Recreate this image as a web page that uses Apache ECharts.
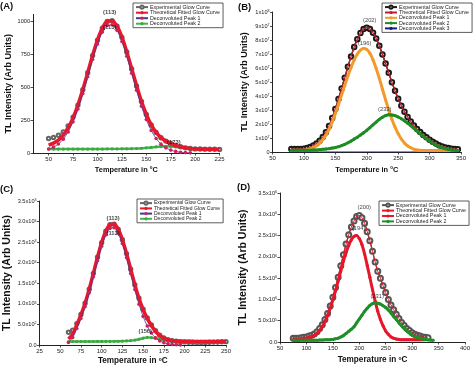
<!DOCTYPE html>
<html><head><meta charset="utf-8">
<script src="https://cdn.jsdelivr.net/npm/echarts@6/dist/echarts.min.js"></script>
<style>html,body{margin:0;padding:0;background:#fff}#c{width:474px;height:372px}</style>
</head><body><div id="c"></div>
<script>
// ---------- DATA ----------
// Panel A
const tA = [50,55,60,65,70,75,80,85,90,95,100,105,110,115,120,125,130,135,140,145,150,155,160,165,170,175,180,185,190,195,200,205,210,215,220,225];
const expA = [110,118,135,160,205,272,363,480,608,738,855,946,996,1002,960,876,765,637,508,391,292,213,156,116,90,72,58,47,39,34,31,30,29,28,28,27];
const fitA = [60,75,98,135,190,266,363,480,608,738,855,946,997,1002,960,877,765,638,509,391,292,213,156,116,90,72,58,47,39,34,31,30,29,28,28,27];
const peak1A = [30,45,68,105,160,236,333,450,578,708,825,916,966,971,929,845,733,605,475,355,253,171,110,67,39,22,12,6,3,1];
const peak2A = [30,30,30,30,30,30,30,30,30,30,30,30,31,31,31,32,32,33,34,36,39,42,46,49,51,50,46,41,36,33,31,30,29,28,28,27];
const xTicksA = [50,75,100,125,150,175,200,225];
const yTicksA = [0,250,500,750,1000];
const annTA = [113,113,170], annVA = [1002,1002,90], annTextA = ['(113)','(113)','(173)'];

// Panel B (values in units of 1e7)
const unitB = 1e7;
const tB = [80,85,90,95,100,105,110,115,120,125,130,135,140,145,150,155,160,165,170,175,180,185,190,195,200,205,210,215,220,225,230,235,240,245,250,255,260,265,270,275,280,285,290,295,300,305,310,315,320,325,330,335,340,345];
const expB = [0.22,0.22,0.22,0.22,0.24,0.29,0.35,0.46,0.6,0.8,1.07,1.41,1.86,2.43,3.07,3.78,4.54,5.31,6.09,6.82,7.5,8.06,8.5,8.78,8.88,8.79,8.52,8.11,7.59,6.97,6.32,5.66,4.99,4.38,3.81,3.31,2.88,2.5,2.18,1.89,1.65,1.42,1.22,1.05,0.88,0.73,0.6,0.49,0.4,0.33,0.28,0.24,0.22,0.2];
const fitB = [0.22,0.22,0.22,0.22,0.24,0.29,0.35,0.46,0.6,0.8,1.07,1.41,1.86,2.43,3.07,3.78,4.54,5.31,6.09,6.82,7.5,8.06,8.5,8.78,8.88,8.79,8.52,8.11,7.59,6.97,6.32,5.66,4.99,4.38,3.81,3.31,2.88,2.5,2.18,1.89,1.65,1.42,1.22,1.05,0.88,0.73,0.6,0.49,0.4,0.33,0.28,0.24,0.22,0.2];
const peak1B = [0.1,0.1,0.1,0.1,0.12,0.16,0.22,0.32,0.45,0.63,0.88,1.2,1.62,2.15,2.75,3.4,4.08,4.76,5.43,6.04,6.58,7.0,7.28,7.4,7.33,7.05,6.58,5.97,5.26,4.49,3.72,3.0,2.34,1.78,1.31,0.93,0.65,0.44,0.3,0.2,0.15,0.12,0.1,0.1,0.1,0.1,0.1,0.1,0.1,0.1,0.1,0.1,0.1,0.1];
const peak2B = [0.12,0.12,0.12,0.12,0.12,0.13,0.13,0.14,0.15,0.17,0.19,0.21,0.24,0.28,0.32,0.38,0.46,0.55,0.66,0.78,0.92,1.06,1.22,1.38,1.55,1.74,1.94,2.14,2.33,2.48,2.6,2.66,2.65,2.6,2.5,2.38,2.23,2.06,1.88,1.69,1.5,1.3,1.12,0.95,0.78,0.63,0.5,0.39,0.3,0.23,0.18,0.14,0.12,0.1];
const peak3B = [0,0,0,0,0,0,0,0,0,0,0,0,0,0,0,0,0,0,0,0,0,0,0,0,0,0,0,0,0,0,0,0,0,0,0,0,0,0,0,0,0,0,0,0,0,0,0,0,0,0,0,0,0,0];
const xTicksB = [50,100,150,200,250,300,350];
const yTicksB = [0,1,2,3,4,5,6,7,8,9,10];
const annTB = [200,195,235], annVB = [8.88,7.4,2.66], annTextB = ['(202)','(196)','(233)'];

// Panel C
const tC = [60,65,70,75,80,85,90,95,100,105,110,115,120,125,130,135,140,145,150,155,160,165,170,175,180,185,190,195,200,205,210,215,220,225,230,235,240,245,250];
const expC = [310,360,520,740,1014,1357,1741,2132,2488,2764,2922,2938,2810,2559,2221,1842,1467,1140,870,660,490,345,240,170,128,105,92,82,75,68,64,62,62,63,66,70,74,78,82];
const fitC = [145,265,485,729,1014,1357,1741,2132,2488,2764,2922,2938,2810,2559,2221,1842,1467,1133,860,647,472,335,234,169,130,108,97,92,88,87,87,86,86,86,86,86,86,86,86];
const peak1C = [60,180,400,644,929,1272,1656,2046,2402,2677,2834,2849,2719,2465,2122,1735,1347,993,695,462,292,175,99,54,28,13,6,3];
const peak2C = [85,85,85,85,85,85,85,86,86,87,88,89,91,94,99,107,120,140,165,185,180,160,135,115,102,95,91,89,88,87,87,86,86,86,86,86,86,86,86];
const xTicksC = [25,50,75,100,125,150,175,200,225,250];
const yTicksC = [0,500,1000,1500,2000,2500,3000,3500];
const annTC = [115,115,155], annVC = [2938,2938,185], annTextC = ['(113)','(113)','(156)'];

// Panel D (values in units of 1e6)
const unitD = 1e6;
const tD = [75,80,85,90,95,100,105,110,115,120,125,130,135,140,145,150,155,160,165,170,175,180,185,190,195,200,205,210,215,220,225,230,235,240,245,250,255,260,265,270,275,280,285,290,295,300,305,310,315,320,325,330,335,340];
const expD = [0.09,0.09,0.09,0.1,0.11,0.12,0.14,0.16,0.19,0.24,0.315,0.405,0.53,0.67,0.845,1.05,1.28,1.52,1.79,2.05,2.3,2.52,2.7,2.84,2.95,2.97,2.92,2.79,2.59,2.38,2.13,1.88,1.66,1.5,1.32,1.16,1.0,0.87,0.76,0.65,0.55,0.46,0.39,0.32,0.27,0.22,0.18,0.16,0.14,0.12,0.11,0.1];
const fitD = [0.09,0.09,0.09,0.1,0.11,0.12,0.14,0.16,0.19,0.24,0.315,0.405,0.53,0.67,0.845,1.05,1.28,1.52,1.79,2.05,2.3,2.52,2.7,2.84,2.95,2.97,2.92,2.79,2.59,2.38,2.13,1.88,1.66,1.5,1.32,1.16,1.0,0.87,0.76,0.65,0.55,0.46,0.39,0.32,0.27,0.22,0.18,0.16,0.14,0.12,0.11,0.1];
const peak1D = [0.05,0.05,0.05,0.06,0.07,0.08,0.1,0.12,0.15,0.2,0.27,0.36,0.48,0.62,0.79,0.99,1.2,1.43,1.67,1.9,2.1,2.27,2.4,2.48,2.5,2.43,2.29,2.07,1.8,1.52,1.23,0.96,0.72,0.53,0.38,0.26,0.18,0.12,0.09,0.07,0.06,0.05,0.05,0.05,0.05,0.05,0.05,0.05,0.05,0.05,0.05];
const peak2D = [0.04,0.04,0.04,0.04,0.04,0.04,0.04,0.04,0.04,0.04,0.045,0.045,0.05,0.05,0.055,0.06,0.075,0.09,0.12,0.15,0.2,0.25,0.3,0.36,0.45,0.54,0.63,0.72,0.79,0.86,0.9,0.92,0.91,0.89,0.85,0.81,0.75,0.68,0.6,0.53,0.45,0.38,0.32,0.26,0.21,0.16,0.13,0.11,0.09,0.07,0.06,0.05,0.045,0.04];
const xTicksD = [50,100,150,200,250,300,350,400];
const yTicksD = [0,0.5,1.0,1.5,2.0,2.5,3.0,3.5];
const annTD = [200,195,230], annVD = [2.97,2.5,0.92], annTextD = ['(200)','(194)','(231)'];

const names = ['Experimental Glow Curve','Theoretical Fitted Glow Curve','Deconvoluted Peak 1','Deconvoluted Peak 2','Deconvoluted Peak 3'];

// ---------- BUILD ----------
const FONT = 'Liberation Sans, Arial, Helvetica, sans-serif';
function pairs(t, v, unit) { unit = unit || 1; const n = Math.min(t.length, v.length); const out = []; for (let i = 0; i < n; i++) out.push([t[i], v[i] * unit]); return out; }

const grids = [
  {left: 33, top: 14.4, width: 186.6, height: 138.6},
  {left: 272.5, top: 12, width: 188.5, height: 140},
  {left: 39.5, top: 201, width: 186.5, height: 144},
  {left: 280, top: 193, width: 185, height: 149}
];

const supRich = {s: {fontSize: 3.6, verticalAlign: 'top', fontFamily: FONT, color: '#222'}};
function xAxis(i, min, max, ticks, nameSize, gap) {
  return {
    type: 'value', gridIndex: i, min: min, max: max,
    name: 'Temperature in {s|o}C', nameLocation: 'middle', nameGap: gap,
    nameTextStyle: {fontSize: nameSize, fontWeight: 'bold', fontFamily: FONT, color: '#111',
      rich: {s: {fontSize: nameSize * 0.6, fontWeight: 'bold', verticalAlign: 'top', fontFamily: FONT, color: '#111'}}},
    axisLine: {lineStyle: {color: '#222', width: 1}},
    axisTick: {show: true, inside: false, length: 2.5, customValues: ticks, lineStyle: {color: '#222', width: 0.8}},
    axisLabel: {fontSize: 6, margin: 3, color: '#222', fontFamily: FONT, customValues: ticks},
    splitLine: {show: false}
  };
}
function yAxis(i, min, max, ticks, fmt, nameSize, gap) {
  return {
    type: 'value', gridIndex: i, min: min, max: max,
    name: 'TL Intensity (Arb Units)', nameLocation: 'middle', nameGap: gap,
    nameTextStyle: {fontSize: nameSize, fontWeight: 'bold', fontFamily: FONT, color: '#111'},
    axisLine: {show: true, lineStyle: {color: '#222', width: 1}},
    axisTick: {show: true, inside: false, length: 2.5, customValues: ticks, lineStyle: {color: '#222', width: 0.8}},
    axisLabel: {fontSize: 5.6, margin: 3, color: '#222', fontFamily: FONT, customValues: ticks, formatter: fmt, rich: supRich},
    splitLine: {show: false}
  };
}
const fmtA = v => String(v);
const fmtB = v => v === 0 ? '0' : (v >= 10 ? '1x10{s|8}' : v + 'x10{s|7}');
const fmtC = v => v === 0 ? '0.0' : (v < 1000 ? (v / 100).toFixed(1) + 'x10{s|2}' : (v / 1000).toFixed(1) + 'x10{s|3}');
const fmtD = v => v === 0 ? '0.0' : (v < 1 ? (v * 10).toFixed(1) + 'x10{s|5}' : v.toFixed(1) + 'x10{s|6}');

function legend(i, left, top, count, tag, fontSize, gap) {
  return {
    orient: 'vertical', left: left, top: top,
    data: names.slice(0, count).map(n => n + '#' + tag),
    formatter: n => n.split('#')[0],
    itemWidth: 12, itemHeight: 4, itemGap: gap,
    padding: [1.5, 3, 1.5, 2], borderColor: '#333', borderWidth: 0.8, backgroundColor: '#fff',
    textStyle: {fontSize: fontSize, color: '#222', fontFamily: FONT, padding: [0, 0, 0, -3]},
    selectedMode: false, z: 20
  };
}

function line(tag, idx, name, t, v, unit, z, o) {
  return Object.assign({
    type: 'line', name: name + '#' + tag, xAxisIndex: idx, yAxisIndex: idx, z: z,
    data: pairs(t, v, unit), smooth: 0.3, animation: false, silent: true, showAllSymbol: true
  }, o);
}
function ann(idx, t, v, unit, texts, offsets, bold) {
  return {
    type: 'scatter', xAxisIndex: idx, yAxisIndex: idx, symbolSize: 0, z: 15, silent: true, animation: false,
    data: t.map((x, i) => ({value: [x, v[i] * (unit || 1)], label: {offset: offsets[i]}})),
    label: {show: true, position: 'inside', fontSize: 5.8, fontWeight: bold ? 'bold' : 'normal', color: '#111', fontFamily: FONT,
      formatter: p => texts[p.dataIndex]}
  };
}

const expStyle = (c, lw, sz, bw) => ({
  lineStyle: {color: c, width: lw}, itemStyle: {color: c, borderColor: c, borderWidth: bw},
  symbol: 'emptyCircle', symbolSize: sz, showSymbol: true
});
const solid = (lc, ic, lw, sz, sym) => ({
  lineStyle: {color: lc, width: lw}, itemStyle: {color: ic}, symbol: sym || 'circle', symbolSize: sz, showSymbol: sz > 0
});

const series = [
  // A
  line('A', 0, names[3], tA, peak2A, 1, 2, solid('#45b54b', '#3aa840', 2.4, 3.2)),
  line('A', 0, names[0], tA, expA, 1, 3, expStyle('#666', 1, 3.4, 0.9)),
  line('A', 0, names[1], tA, fitA, 1, 4, solid('#e8182c', '#e8182c', 3.6, 0, 'none')),
  line('A', 0, names[2], tA, peak1A, 1, 5, solid('#3c3c96', '#d0205a', 0.8, 3.6)),
  ann(0, annTA, annVA, 1, annTextA, [[-0.5, -8.5], [-0.5, 6.5], [8, 1]], true),
  // B
  line('B', 1, names[4], tB, peak3B, unitB, 1, solid('#1a1a80', '#1a1a80', 1, 0, 'none')),
  line('B', 1, names[0], tB, expB, unitB, 2, expStyle('#1a1a1a', 1.5, 4.5, 1.1)),
  line('B', 1, names[1], tB, fitB, unitB, 3, solid('#c81c2a', '#c81c2a', 1.2, 0, 'none')),
  line('B', 1, names[2], tB, peak1B, unitB, 5, solid('#f39a2c', '#f39a2c', 3, 3)),
  line('B', 1, names[3], tB, peak2B, unitB, 6, solid('#1e8c23', '#1e8c23', 3, 3)),
  ann(1, annTB, annVB, unitB, annTextB, [[3, -7], [1, -5.5], [-4, -5.5]], false),
  // C
  line('C', 2, names[3], tC, peak2C, 1, 2, solid('#45b54b', '#3aa840', 2.4, 3.2)),
  line('C', 2, names[0], tC, expC, 1, 3, expStyle('#666', 1, 3.4, 0.9)),
  line('C', 2, names[1], tC, fitC, 1, 4, solid('#e8182c', '#e8182c', 3.6, 0, 'none')),
  line('C', 2, names[2], tC, peak1C, 1, 5, solid('#3c3c96', '#d0205a', 0.8, 3.6)),
  ann(2, annTC, annVC, 1, annTextC, [[-1, -6], [-1, 9], [-2, -6]], true),
  // D
  line('D', 3, names[0], tD, expD, unitD, 2, expStyle('#555', 1.4, 5, 1)),
  line('D', 3, names[1], tD, fitD, unitD, 3, solid('#e8182c', '#e8182c', 1, 0, 'none')),
  line('D', 3, names[2], tD, peak1D, unitD, 4, solid('#e8162a', '#e8162a', 3, 3)),
  line('D', 3, names[3], tD, peak2D, unitD, 5, solid('#1f8f28', '#1f8f28', 3, 3)),
  ann(3, annTD, annVD, unitD, annTextD, [[5, -8], [2, -7], [2, -6]], false)
];

const option = {
  animation: false,
  backgroundColor: '#fff',
  grid: grids,
  xAxis: [
    xAxis(0, 34, 225, xTicksA, 7.4, 13),
    xAxis(1, 50, 350, xTicksB, 7.4, 14),
    xAxis(2, 25, 250, xTicksC, 8.2, 12),
    xAxis(3, 50, 400, xTicksD, 8.2, 14)
  ],
  yAxis: [
    yAxis(0, 0, 1050, yTicksA, fmtA, 9, 20),
    yAxis(1, 0, 1e8, yTicksB.map(v => v * unitB), v => fmtB(v / unitB), 9, 23),
    yAxis(2, 0, 3500, yTicksC, fmtC, 10.5, 27),
    yAxis(3, 0, 3.5e6, yTicksD.map(v => v * unitD), v => fmtD(v / unitD), 10.5, 31)
  ],
  legend: [
    legend(0, 133, 3, 4, 'A', 5.3, 0.5),
    legend(1, 382, 3, 5, 'B', 5.3, 0.3),
    legend(2, 137, 199, 4, 'C', 5.0, 0.2),
    legend(3, 379, 201, 4, 'D', 5.3, 0.4)
  ],
  graphic: [
    {type: 'text', left: 0, top: 1, style: {text: '(A)', font: 'bold 9.5px ' + FONT, fill: '#111'}},
    {type: 'text', left: 238, top: 2, style: {text: '(B)', font: 'bold 9.5px ' + FONT, fill: '#111'}},
    {type: 'text', left: 0, top: 184, style: {text: '(C)', font: 'bold 9.5px ' + FONT, fill: '#111'}},
    {type: 'text', left: 237, top: 182, style: {text: '(D)', font: 'bold 9.5px ' + FONT, fill: '#111'}}
  ],
  series: series
};

const chart = echarts.init(document.getElementById('c'), null, {renderer: 'canvas'});
chart.setOption(option);
</script>
</body></html>
